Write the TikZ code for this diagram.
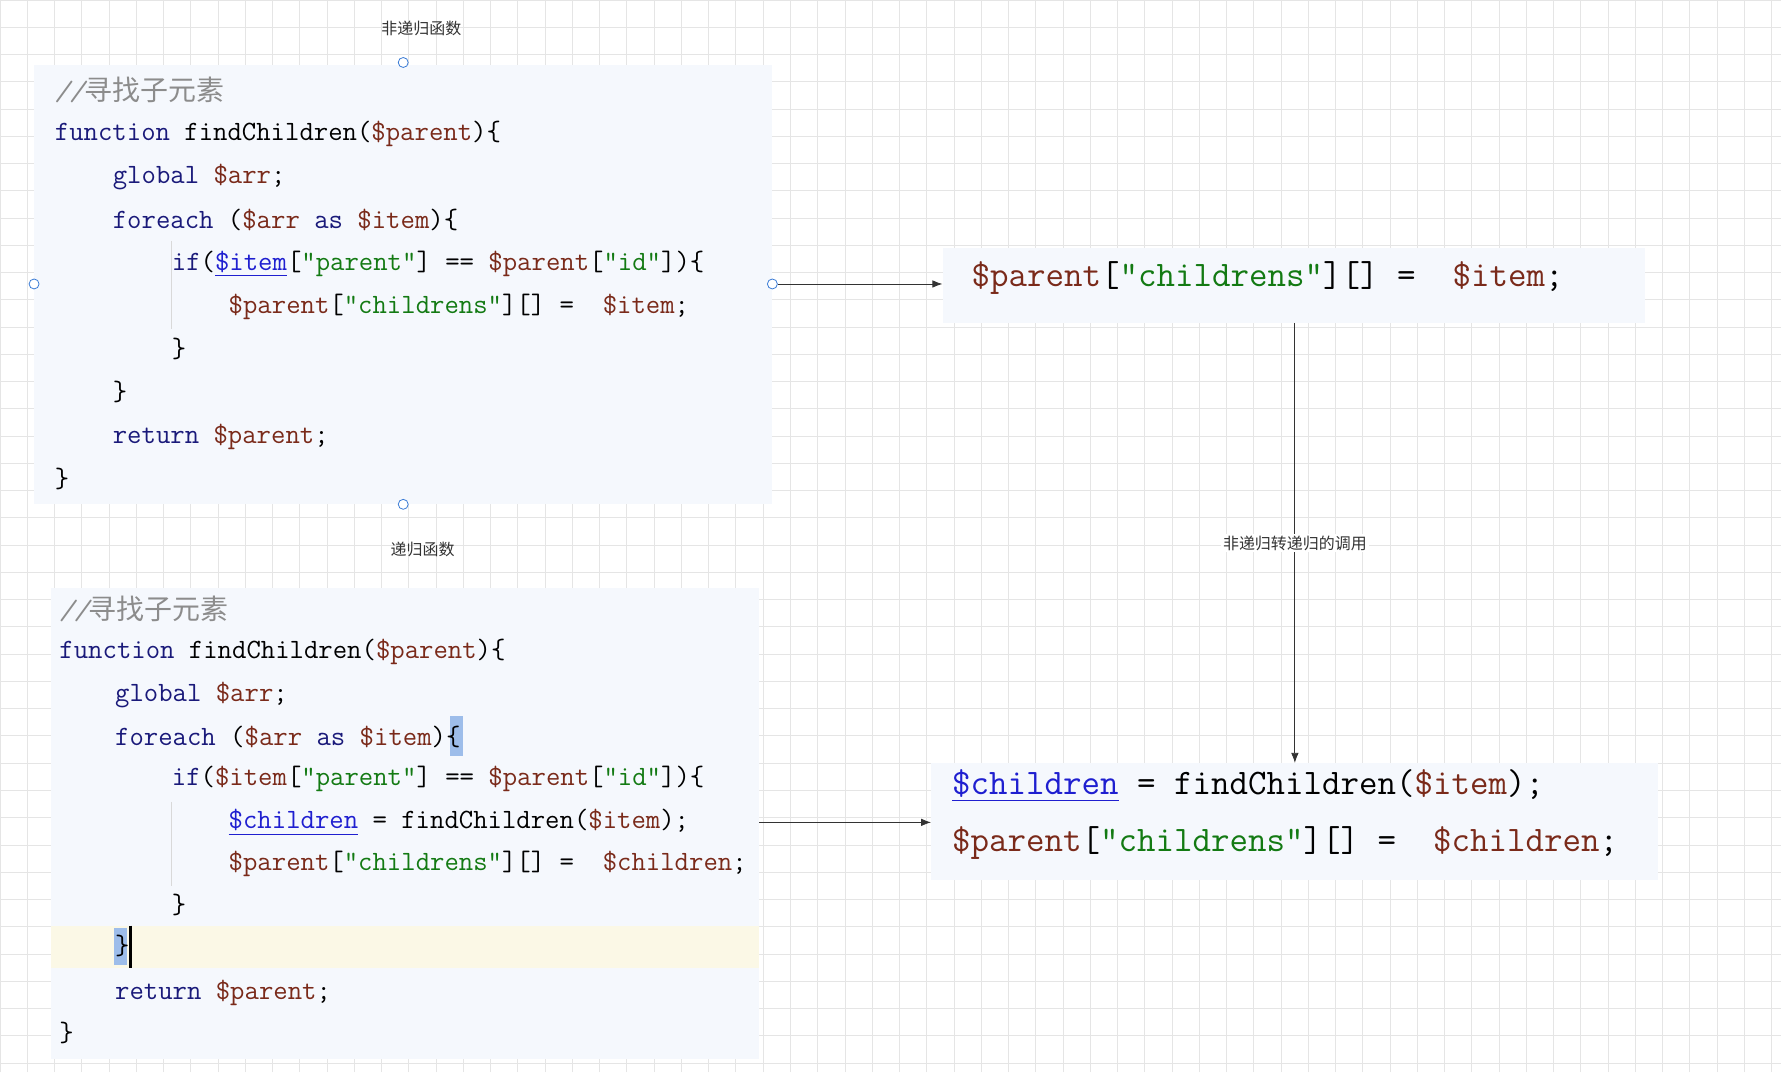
\documentclass[tikz,border=0pt]{standalone}
\usepackage{fontspec}
\newfontfamily\cjk{Noto Sans CJK SC}
\usepackage{xcolor}
\usetikzlibrary{positioning, arrows.meta}
\definecolor{kwc}{HTML}{1A1A7A}
\definecolor{vrc}{HTML}{7A2A1A}
\definecolor{stc}{HTML}{137A13}
\definecolor{cmc}{HTML}{8C8C8C}
\definecolor{lnk}{HTML}{1F1FD0}
\definecolor{pane}{HTML}{F5F8FD}
\definecolor{hbox}{HTML}{FBF8E6}
\definecolor{hdl}{HTML}{3A7BD5}
\newcommand{\kw}[1]{\textcolor{kwc}{#1}}
\newcommand{\vr}[1]{\textcolor{vrc}{#1}}
\newcommand{\st}[1]{\textcolor{stc}{#1}}
\newcommand{\lk}[1]{\textcolor{lnk}{\underline{#1}}}
\begin{document}
\begin{tikzpicture}[x=0.02cm, y=-0.02cm,
			code/.style={anchor=west, inner sep=0pt, font=\fontsize{14}{16}\selectfont\ttfamily},
			bigcode/.style={anchor=west, inner sep=0pt, font=\fontsize{18}{20}\selectfont\ttfamily},
			pane/.style={fill=pane, draw=none, rectangle, inner sep=0pt},
			tag/.style={font=\cjk\fontsize{8}{10}\selectfont, text=black!80},
			handle/.style={circle, draw=hdl, fill=white, inner sep=0pt, minimum size=5pt}
			]
			\useasboundingbox (0,0) rectangle (1568,944);
			
			% Grid
			\draw[black!10, step=0.48cm] (0,0) grid (1568,944);
			
			% Top code pane
			\node[pane, minimum width=13cm, minimum height=7.74cm] (top) at (355,250.5) {};
			\node[code] at (48,79) {\textcolor{cmc}{\itshape //\cjk 寻找子元素}};
			\node[code] at (48,118) {\kw{function} findChildren(\vr{\$parent})\{};
			\node[code] at (99,156) {\kw{global} \vr{\$arr};};
			\node[code] at (99,194) {\kw{foreach} (\vr{\$arr} \kw{as} \vr{\$item})\{};
			\node[code] at (151,232) {\kw{if}(\lk{\$item}[\st{"parent"}] == \vr{\$parent}[\st{"id"}])\{};
			\node[code] at (201,270) {\vr{\$parent}[\st{"childrens"}][] =~ \vr{\$item};};
			\node[code] at (151,307) {\}};
			\node[code] at (99,345) {\}};
			\node[code] at (99,385) {\kw{return} \vr{\$parent};};
			\node[code] at (48,422) {\}};
			\draw[black!15] (151,212) -- (151,290);
			
			% Handles
			\node[handle] at (355,55) {};
			\node[handle] at (355,444) {};
			\node[handle] at (30,250) {};
			\node[handle] (hr) at (680,250) {};
			
			% Bottom code pane
			\node[pane, minimum width=12.46cm, minimum height=8.28cm] (bot) at (356.5,725) {};
			\fill[hbox] (45,815) rectangle (668,852);
			\fill[hdl!50] (100,817) rectangle (112,850);
			\fill[hdl!50] (396,630) rectangle (408,666);
			\draw[black, line width=1.5pt] (115,815) -- (115,852);
			\node[code] at (52,536) {\textcolor{cmc}{\itshape //\cjk 寻找子元素}};
			\node[code] at (52,574) {\kw{function} findChildren(\vr{\$parent})\{};
			\node[code] at (101,612) {\kw{global} \vr{\$arr};};
			\node[code] at (101,649) {\kw{foreach} (\vr{\$arr} \kw{as} \vr{\$item})\{};
			\node[code] at (151,686) {\kw{if}(\vr{\$item}[\st{"parent"}] == \vr{\$parent}[\st{"id"}])\{};
			\node[code] at (201,724) {\lk{\$children} = findChildren(\vr{\$item});};
			\node[code] at (201,761) {\vr{\$parent}[\st{"childrens"}][] =~ \vr{\$children};};
			\node[code] at (151,797) {\}};
			\node[code] at (101,833) {\}};
			\node[code] at (101,874) {\kw{return} \vr{\$parent};};
			\node[code] at (52,909) {\}};
			\draw[black!15] (151,706) -- (151,780);
			
			% Right boxes
			\node[pane, minimum width=12.36cm, minimum height=1.32cm] (one) at (1139,251) {};
			\node[bigcode] at (855,245) {\vr{\$parent}[\st{"childrens"}][] =~ \vr{\$item};};
			\node[pane, minimum width=12.8cm, minimum height=2.06cm] (two) at (1140,723.5) {};
			\node[bigcode] at (838,692) {\lk{\$children} = findChildren(\vr{\$item});};
			\node[bigcode] at (838,742) {\vr{\$parent}[\st{"childrens"}][] =~ \vr{\$children};};
			
			% Labels
			\node[tag] at (371,25) {非递归函数};
			\node[tag] at (372,484) {递归函数};
			
			% Connectors
			\draw[-{Latex[length=5pt]}, black!80] (hr) -- (one.west |- hr);
			\draw[-{Latex[length=5pt]}, black!80] (bot.east |- 0,724) -- (two.west |- 0,724);
			\draw[-{Latex[length=5pt]}, black!80] (one.south -| 1140,0) -- node[tag, fill=white, inner sep=1pt] {非递归转递归的调用} (two.north -| 1140,0);
			
		\end{tikzpicture}
\end{document}
